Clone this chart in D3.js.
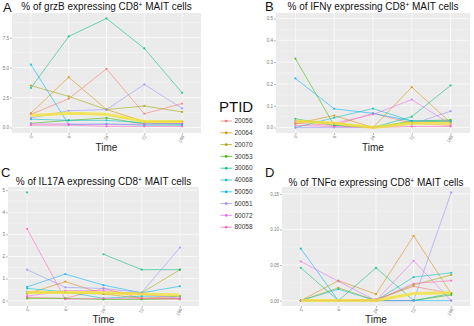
<!DOCTYPE html>
<html>
<head>
<meta charset="utf-8">
<script src="https://cdn.jsdelivr.net/npm/d3@7"></script>
<style>
  body { margin: 0; background: #fff; }
  svg { display: block; font-family: "Liberation Sans", Arial, Helvetica, sans-serif; }
</style>
</head>
<body>
<div id="chart"></div>
<script>
// sampling times and patients
const times = ["0", "6", "24", "72", "168"];
const ptids = ["20056", "20064", "20070", "30053", "30060", "40068", "50050", "60051", "60072", "80058"];
const colours = ["#F8766D", "#D89000", "#A3A500", "#39B600", "#00BF7D", "#00BFC4", "#00B0F6", "#9590FF", "#E76BF3", "#FF62BC"];

// one row per PTID, one value per time point (null = not measured)
const grzB = [
  [1.1, 2.4, 4.9, 1.15, 2.0],
  [1.2, 4.2, 1.5, 0.5, 0.5],
  [3.5, 2.6, 1.5, 1.8, 1.3],
  [0.35, 0.6, 0.8, 0.3, 0.3],
  [3.3, 7.6, 9.1, 6.6, 2.9],
  [0.7, 0.6, 0.6, 0.4, 0.3],
  [5.25, 0.25, 0.3, 0.2, 0.2],
  [0.8, 1.4, 1.5, 3.6, 1.6],
  [0.3, 0.3, 0.25, 0.3, 0.35],
  [0.2, 0.2, 0.1, 0.1, 0.1]
];
const grzBMedian = [1.0, 1.2, 1.1, 0.5, 0.5];

const ifng = [
  [0.02, 0.01, 0.065, 0.02, 0.01],
  [0.018, 0.055, 0.0, 0.185, 0.022],
  [0.03, 0.02, 0.0, 0.025, 0.03],
  [0.316, 0.01, 0.0, 0.03, 0.035],
  [0.04, 0.01, 0.0, 0.05, 0.193],
  [0.0, 0.045, 0.087, 0.03, 0.025],
  [0.225, 0.086, 0.065, 0.03, 0.03],
  [0.0, 0.0, 0.0, 0.015, 0.075],
  [0.03, 0.02, 0.06, 0.128, 0.015],
  [0.01, 0.005, 0.0, 0.005, 0.005]
];
const ifngMedian = [0.03, 0.02, 0.0, 0.02, 0.02];

const il17a = [
  [0.15, 0.1, 0.55, 0.1, 0.05],
  [0.3, 0.86, 0.3, 0.1, 0.2],
  [0.4, 0.35, 0.3, 0.35, 1.4],
  [0.1, 0.1, 0.05, 0.05, 0.1],
  [4.9, null, 2.1, 1.4, 1.4],
  [0.55, 0.4, 0.1, 0.2, 0.2],
  [0.62, 1.2, 0.7, 0.35, 0.65],
  [1.4, 0.6, 0.55, 0.36, 2.4],
  [0.2, 0.45, 0.45, 0.3, 0.1],
  [3.25, 0.06, 0.1, 0.1, 0.1]
];
const il17aMedian = [0.35, 0.38, 0.35, 0.3, 0.25];

const tnfa = [
  [0.0, 0.0, 0.002, 0.02, 0.01],
  [0.0, 0.028, 0.009, 0.091, 0.01],
  [0.0, 0.018, 0.0, 0.022, 0.036],
  [0.0, 0.0, 0.0, 0.0, 0.008],
  [0.046, 0.0, 0.046, 0.0, 0.01],
  [0.0, 0.016, 0.0, 0.033, 0.039],
  [0.073, 0.0, 0.0, 0.0, 0.0],
  [0.0, 0.0, 0.0, 0.0, 0.152],
  [0.055, 0.027, 0.0, 0.056, 0.0],
  [0.0, 0.0, 0.0, 0.024, 0.028]
];
const tnfaMedian = [0.0, 0.0, 0.0, 0.01, 0.011];

const panels = [
  { letter: "A", marker: "grzB", values: grzB, median: grzBMedian,
    ticks: [0, 2.5, 5, 7.5], fmt: d3.format(".1f"),
    left: 12, right: 201, top: 13, bottom: 133,
    letterX: 3, letterY: 12, titleY: 10 },
  { letter: "B", marker: "IFN\u03b3", values: ifng, median: ifngMedian, yMax: 0.5,
    ticks: [0, 0.1, 0.2, 0.3, 0.4, 0.5], fmt: d3.format(".1f"),
    left: 276, right: 470, top: 13, bottom: 133,
    letterX: 265, letterY: 11, titleY: 10 },
  { letter: "C", marker: "IL17A", values: il17a, median: il17aMedian,
    ticks: [0, 1, 2, 3, 4, 5], fmt: d3.format("d"),
    left: 8, right: 199, top: 187, bottom: 306,
    letterX: 1, letterY: 177, titleY: 185 },
  { letter: "D", marker: "TNF\u03b1", values: tnfa, median: tnfaMedian,
    ticks: [0, 0.05, 0.1, 0.15], fmt: d3.format(".2f"),
    left: 282, right: 470, top: 187, bottom: 306,
    letterX: 265, letterY: 177, titleY: 186 }
];

const svg = d3.select("#chart").append("svg")
    .attr("width", 474)
    .attr("height", 326);

function drawPanel(p) {
    const g = svg.append("g");

    const x = d3.scalePoint()
        .domain(times)
        .range([p.left, p.right])
        .padding(0.5);

    const all = p.values.flat().concat(p.median).filter(v => v != null);
    const hi = Math.max(d3.max(all), p.yMax || 0);
    const pad = hi * 0.05;
    const y = d3.scaleLinear()
        .domain([-pad, hi + pad])
        .range([p.bottom, p.top]);

    g.append("rect")
        .attr("x", p.left)
        .attr("y", p.top)
        .attr("width", p.right - p.left)
        .attr("height", p.bottom - p.top)
        .attr("fill", "#ebebeb");

    // minor grid halfway between majors
    const step = p.ticks[1] - p.ticks[0];
    const minors = p.ticks.map(t => t + step / 2).filter(t => t < hi + pad);
    g.selectAll(".minor").data(minors).enter().append("line")
        .attr("x1", p.left).attr("x2", p.right)
        .attr("y1", d => y(d)).attr("y2", d => y(d))
        .attr("stroke", "#f7f7f7").attr("stroke-width", 0.4);

    g.selectAll(".hmajor").data(p.ticks).enter().append("line")
        .attr("x1", p.left).attr("x2", p.right)
        .attr("y1", d => y(d)).attr("y2", d => y(d))
        .attr("stroke", "#fbfbfb").attr("stroke-width", 0.8);

    g.selectAll(".vmajor").data(times).enter().append("line")
        .attr("x1", d => x(d)).attr("x2", d => x(d))
        .attr("y1", p.top).attr("y2", p.bottom)
        .attr("stroke", "#fbfbfb").attr("stroke-width", 0.8);

    // axes
    const yAxis = g.append("g")
        .attr("transform", "translate(" + p.left + ",0)")
        .call(d3.axisLeft(y).tickValues(p.ticks).tickFormat(p.fmt).tickSize(2).tickPadding(1));
    const xAxis = g.append("g")
        .attr("transform", "translate(0," + p.bottom + ")")
        .call(d3.axisBottom(x).tickSize(2).tickPadding(1));

    [yAxis, xAxis].forEach(a => {
        a.select(".domain").remove();
        a.selectAll(".tick line").attr("stroke", "#777").attr("stroke-width", 0.5);
        a.selectAll("text").attr("font-size", 4.5).attr("fill", "#777").attr("font-family", null);
    });
    xAxis.selectAll("text")
        .attr("text-anchor", "end")
        .attr("transform", "translate(0,4) rotate(-60)")
        .attr("y", 0).attr("x", 0).attr("dx", "0.3em").attr("dy", "0.3em");

    g.append("text")
        .attr("x", (p.left + p.right) / 2)
        .attr("y", p.bottom + (p.top < 100 ? 18 : 17))
        .attr("text-anchor", "middle")
        .attr("font-size", 10)
        .attr("fill", "#222")
        .text("Time");

    // lines per patient
    const line = d3.line()
        .defined(v => v != null)
        .x((v, i) => x(times[i]))
        .y(v => y(v));

    p.values.forEach((row, k) => {
        g.append("path")
            .datum(row)
            .attr("d", line)
            .attr("fill", "none")
            .attr("stroke", colours[k])
            .attr("stroke-width", 0.8)
            .attr("stroke-opacity", 0.7);
        g.selectAll(".pt" + k)
            .data(row.map((v, i) => ({ v: v, t: times[i] })).filter(d => d.v != null))
            .enter().append("circle")
            .attr("cx", d => x(d.t))
            .attr("cy", d => y(d.v))
            .attr("r", 1.1)
            .attr("fill", colours[k])
            .attr("fill-opacity", 0.8);
    });

    g.append("path")
        .datum(p.median)
        .attr("d", line)
        .attr("fill", "none")
        .attr("stroke", "#F2E23A")
        .attr("stroke-width", 3)
        .attr("stroke-opacity", 0.8)
        .attr("stroke-linejoin", "round");

    // panel letter and title
    svg.append("text")
        .attr("x", p.letterX)
        .attr("y", p.letterY)
        .attr("font-size", 13)
        .attr("fill", "#111")
        .text(p.letter);

    const title = svg.append("text")
        .attr("x", (p.left + p.right) / 2)
        .attr("y", p.titleY)
        .attr("text-anchor", "middle")
        .attr("font-size", 10)
        .attr("fill", "#111");
    title.append("tspan").text("% of " + p.marker + " expressing CD8");
    title.append("tspan").attr("dy", -3.5).attr("font-size", 6.5).text("+");
    title.append("tspan").attr("dy", 3.5).text(" MAIT cells");
}

panels.forEach(drawPanel);

// shared legend
const legend = svg.append("g");
legend.append("text")
    .attr("x", 219)
    .attr("y", 112)
    .attr("font-size", 15)
    .attr("fill", "#111")
    .text("PTID");

const key = legend.selectAll(".key").data(ptids).enter().append("g")
    .attr("transform", (d, i) => "translate(0," + (121 + i * 11.8) + ")");
key.append("line")
    .attr("x1", 220.5).attr("x2", 232)
    .attr("stroke", (d, i) => colours[i])
    .attr("stroke-width", 0.9)
    .attr("stroke-opacity", 0.8);
key.append("circle")
    .attr("cx", 226.2).attr("r", 1.3)
    .attr("fill", (d, i) => colours[i]);
key.append("text")
    .attr("x", 234.5)
    .attr("y", 2.2)
    .attr("font-size", 6.5)
    .attr("fill", "#333")
    .text(d => d);
</script>
</body>
</html>
